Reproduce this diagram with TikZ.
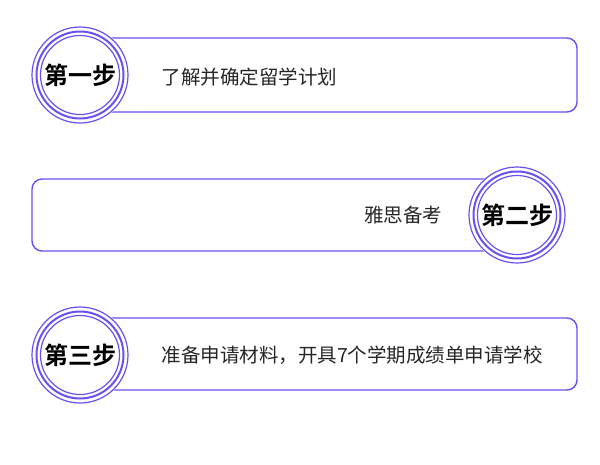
\documentclass[tikz,border=0pt]{standalone}
\usepackage{fontspec}
\newfontfamily\cjk{Noto Sans CJK SC}
\newfontfamily\cjkb{Noto Sans CJK SC Bold}
\definecolor{pur}{HTML}{6A50F0}
\tikzset{
 bar/.style={draw=pur,line width=1.4pt,rounded corners=10pt,fill=white},
 lbl/.style={font=\cjk\fontsize{19.5}{19.5}\selectfont,text=black!85},
 stp/.style={font=\cjkb\fontsize{24}{24}\selectfont,text=black,inner sep=0pt},
}
\newcommand\badge[3]{%
 \fill[white] (#1) circle (49);
 \draw[pur,line width=1.2pt] (#1) circle (48);
 \draw[pur,line width=2pt] (#1) circle (43.5);
 \draw[pur,line width=1.2pt] (#1) circle (39.5);
 \node[stp] (#2) at (#1) {#3};}
\begin{document}
\begin{tikzpicture}[x=1pt,y=-1pt]
\useasboundingbox (0,0) rectangle (600,464);
\fill[white] (0,0) rectangle (600,464);
\draw[bar] (60,38) rectangle (577,112);
\coordinate (c1) at (80,75);
\badge{c1}{s1}{第一步}
\node[lbl,anchor=west] (t1) at (158,77) {了解并确定留学计划};
\draw[bar] (32,179) rectangle (540,251);
\coordinate (c2) at (517,215);
\badge{c2}{s2}{第二步}
\node[lbl,anchor=east] (t2) at (446,215) {雅思备考};
\draw[bar] (60,318) rectangle (577,390);
\coordinate (c3) at (80,355);
\badge{c3}{s3}{第三步}
\node[lbl,anchor=west] (t3) at (158,355) {准备申请材料，开具7个学期成绩单申请学校};
\end{tikzpicture}
\end{document}
